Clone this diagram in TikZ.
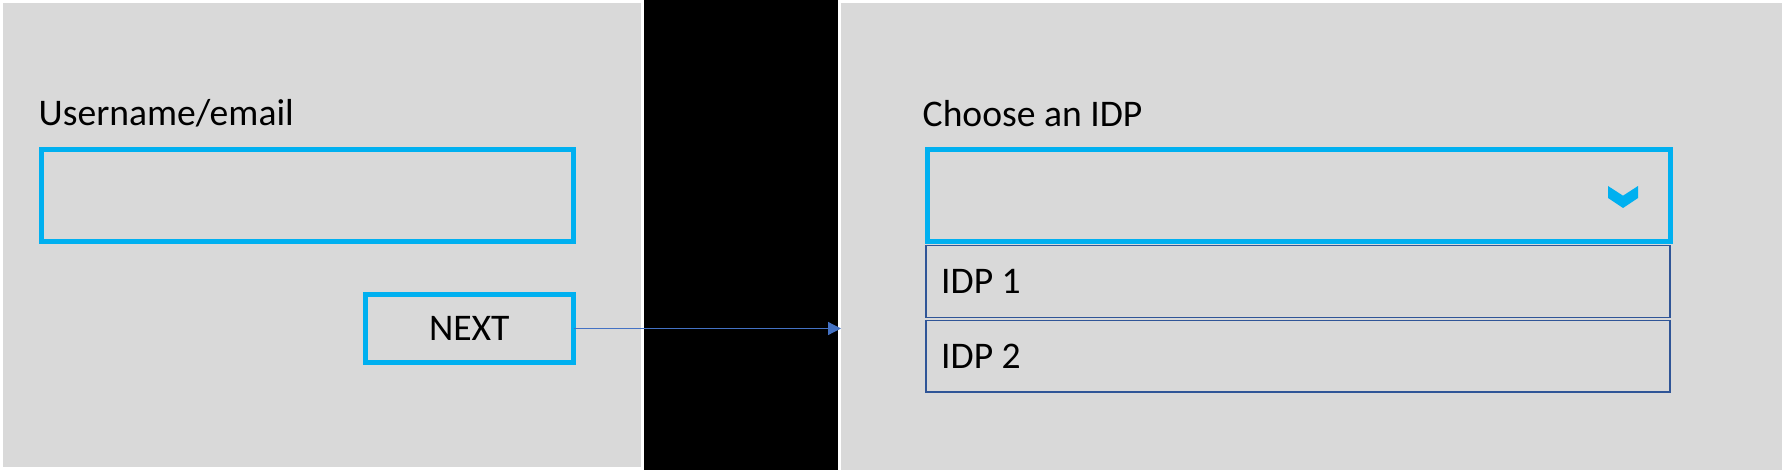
\documentclass[tikz,border=0pt]{standalone}
\usepackage{fontspec}
\setmainfont{Carlito}
\usetikzlibrary{arrows.meta}
\definecolor{panelgrey}{HTML}{D9D9D9}
\definecolor{fieldblue}{HTML}{00B0F0}
\definecolor{itemblue}{HTML}{2F5597}
\definecolor{arrowblue}{HTML}{4472C4}
\tikzset{
  panel/.style={fill=panelgrey, draw=none, inner sep=0pt, outer sep=0pt},
  field/.style={draw=fieldblue, line width=5pt, inner sep=0pt, outer sep=0pt},
  item/.style={draw=itemblue, line width=1.8pt, inner sep=0pt, outer sep=0pt},
  lbl/.style={anchor=base west, inner sep=0pt, font=\fontsize{37.6}{44}\selectfont},
  btntext/.style={font=\fontsize{37.6}{44}\selectfont},
  flow/.style={draw=arrowblue, line width=1.2pt, -{Triangle[length=13pt,width=13pt]}}
}
\begin{document}
\begin{tikzpicture}[x=1pt, y=-1pt]
\useasboundingbox (0,0) rectangle (1782,470);
\fill[white] (0,0) rectangle (1782,470);
% black separator column
\fill[black] (644,0) rectangle (838,470);
% panels
\node[panel, minimum width=638pt, minimum height=464pt] (lpanel) at (322,235) {};
\node[panel, minimum width=941pt, minimum height=467pt] (rpanel) at (1311.5,236.5) {};
% left screen
\node[lbl] (ulabel) at (38.5,126) {Username/email};
\node[field, minimum width=532pt, minimum height=92pt] (ufield) at (307.5,195.5) {};
\node[field, btntext, minimum width=208.5pt, minimum height=68pt] (next) at (469.25,328.5) {NEXT};
% right screen
\node[lbl] (clabel) at (922.5,126.7) {Choose an IDP};
\node[field, minimum width=743pt, minimum height=92pt] (dropdown) at (1298.5,195.5) {};
\node[item, minimum width=744pt, minimum height=72pt] (idp1) at (1298,281.5) {};
\node[item, minimum width=744pt, minimum height=71.5pt] (idp2) at (1298,356.25) {};
\node[lbl] (idp1text) at (941,293.3) {IDP 1};
\node[lbl] (idp2text) at (941,368.3) {IDP 2};
% chevron
\fill[fieldblue] (1608,186) -- (1623,195.7) -- (1638,186) -- (1638,198) -- (1623,208) -- (1608,198) -- cycle;
% connector
\draw[flow] (next.east) -- (next.east -| rpanel.west);
\end{tikzpicture}
\end{document}
